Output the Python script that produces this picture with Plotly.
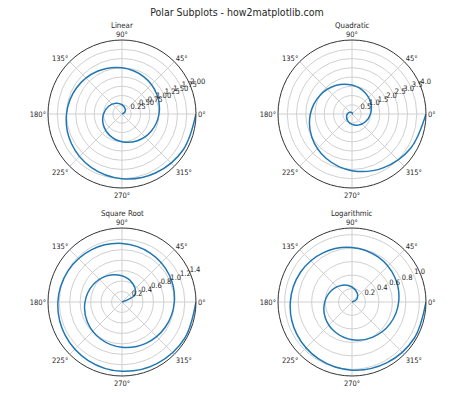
import plotly.graph_objects as go

# angles in degrees (two full turns)
theta_deg = [0, 30, 60, 90, 120, 150, 180, 210, 240, 270, 300, 330, 360,
             390, 420, 450, 480, 510, 540, 570, 600, 630, 660, 690, 720]

r_linear = [0, 0.083, 0.167, 0.25, 0.333, 0.417, 0.5, 0.583, 0.667, 0.75, 0.833, 0.917, 1.0,
            1.083, 1.167, 1.25, 1.333, 1.417, 1.5, 1.583, 1.667, 1.75, 1.833, 1.917, 2.0]
r_quadratic = [0, 0.007, 0.028, 0.063, 0.111, 0.174, 0.25, 0.340, 0.444, 0.563, 0.694, 0.840, 1.0,
               1.174, 1.361, 1.563, 1.778, 2.007, 2.25, 2.507, 2.778, 3.063, 3.361, 3.674, 4.0]
r_sqrt = [0, 0.289, 0.408, 0.5, 0.577, 0.645, 0.707, 0.764, 0.816, 0.866, 0.913, 0.957, 1.0,
          1.041, 1.080, 1.118, 1.155, 1.190, 1.225, 1.258, 1.291, 1.323, 1.354, 1.384, 1.414]
r_log = [0, 0.080, 0.154, 0.223, 0.288, 0.348, 0.405, 0.460, 0.511, 0.560, 0.606, 0.651, 0.693,
         0.734, 0.773, 0.811, 0.847, 0.883, 0.916, 0.949, 0.981, 1.012, 1.041, 1.070, 1.099]

titles = ["Linear", "Quadratic", "Square Root", "Logarithmic"]
series = [r_linear, r_quadratic, r_sqrt, r_log]
rticks = [
    [0.25, 0.5, 0.75, 1.0, 1.25, 1.5, 1.75, 2.0],
    [0.5, 1.0, 1.5, 2.0, 2.5, 3.0, 3.5, 4.0],
    [0.2, 0.4, 0.6, 0.8, 1.0, 1.2, 1.4],
    [0.2, 0.4, 0.6, 0.8, 1.0],
]
rfmt = ["{:.2f}", "{:.1f}", "{:.1f}", "{:.1f}"]
rmax = [2.0, 4.0, 1.414, 1.099]
angle_ticks = [0, 45, 90, 135, 180, 225, 270, 315]
angle_labels = ["0°", "45°", "90°", "135°", "180°", "225°", "270°", "315°"]
RLABEL_ANGLE = 22.5

W, H = 474, 395
centers = [(122, 114), (352, 114), (122, 302), (352, 302)]
R = 74

FONT = "Liberation Sans Narrow, DejaVu Sans Condensed, Noto Sans"
TXT = "#262626"
fig = go.Figure()
layout = dict(width=W, height=H, margin=dict(l=0, r=0, t=0, b=0),
              paper_bgcolor="white", plot_bgcolor="white", showlegend=False,
              font=dict(family=FONT, color=TXT))
annotations = []
for i in range(4):
    name = "polar" if i == 0 else f"polar{i+1}"
    fig.add_trace(go.Scatterpolar(r=series[i], theta=theta_deg, mode="lines",
                                  line=dict(color="#1f77b4", width=1.5, shape="spline"),
                                  subplot=name, hoverinfo="skip"))
    # radial tick labels along the 22.5° direction (matplotlib style)
    fig.add_trace(go.Scatterpolar(r=rticks[i], theta=[RLABEL_ANGLE] * len(rticks[i]),
                                  mode="text", text=[rfmt[i].format(v) for v in rticks[i]],
                                  textposition="top right", cliponaxis=False,
                                  textfont=dict(size=7.5, family=FONT, color=TXT),
                                  subplot=name, hoverinfo="skip"))
    cx, cy = centers[i]
    layout[name] = dict(
        domain=dict(x=[(cx - R) / W, (cx + R) / W], y=[(H - cy - R) / H, (H - cy + R) / H]),
        bgcolor="white",
        radialaxis=dict(range=[0, rmax[i]], tickvals=rticks[i], showticklabels=False,
                        angle=RLABEL_ANGLE, showline=False, ticks="",
                        gridcolor="#d0d0d0", gridwidth=0.8),
        angularaxis=dict(direction="counterclockwise", rotation=0,
                         tickvals=angle_ticks, ticktext=angle_labels, ticks="",
                         showline=True, linecolor="#333333", linewidth=1,
                         gridcolor="#d0d0d0", gridwidth=0.8,
                         tickfont=dict(size=7.5, family=FONT, color=TXT)),
    )
    annotations.append(dict(text=titles[i], x=cx / W, y=(H - cy + R + 8) / H,
                            xref="paper", yref="paper", showarrow=False,
                            xanchor="center", yanchor="bottom",
                            font=dict(size=7.8, family=FONT, color=TXT)))
layout["annotations"] = annotations
layout["title"] = dict(text="Polar Subplots - how2matplotlib.com", x=237 / W,
                       xanchor="center", y=1 - 12 / H, yanchor="middle",
                       font=dict(size=10.5, family=FONT, color=TXT))
fig.update_layout(**layout)
fig.write_html("out.html", config={"displayModeBar": False},
               post_script="document.body.style.margin='0px';")
